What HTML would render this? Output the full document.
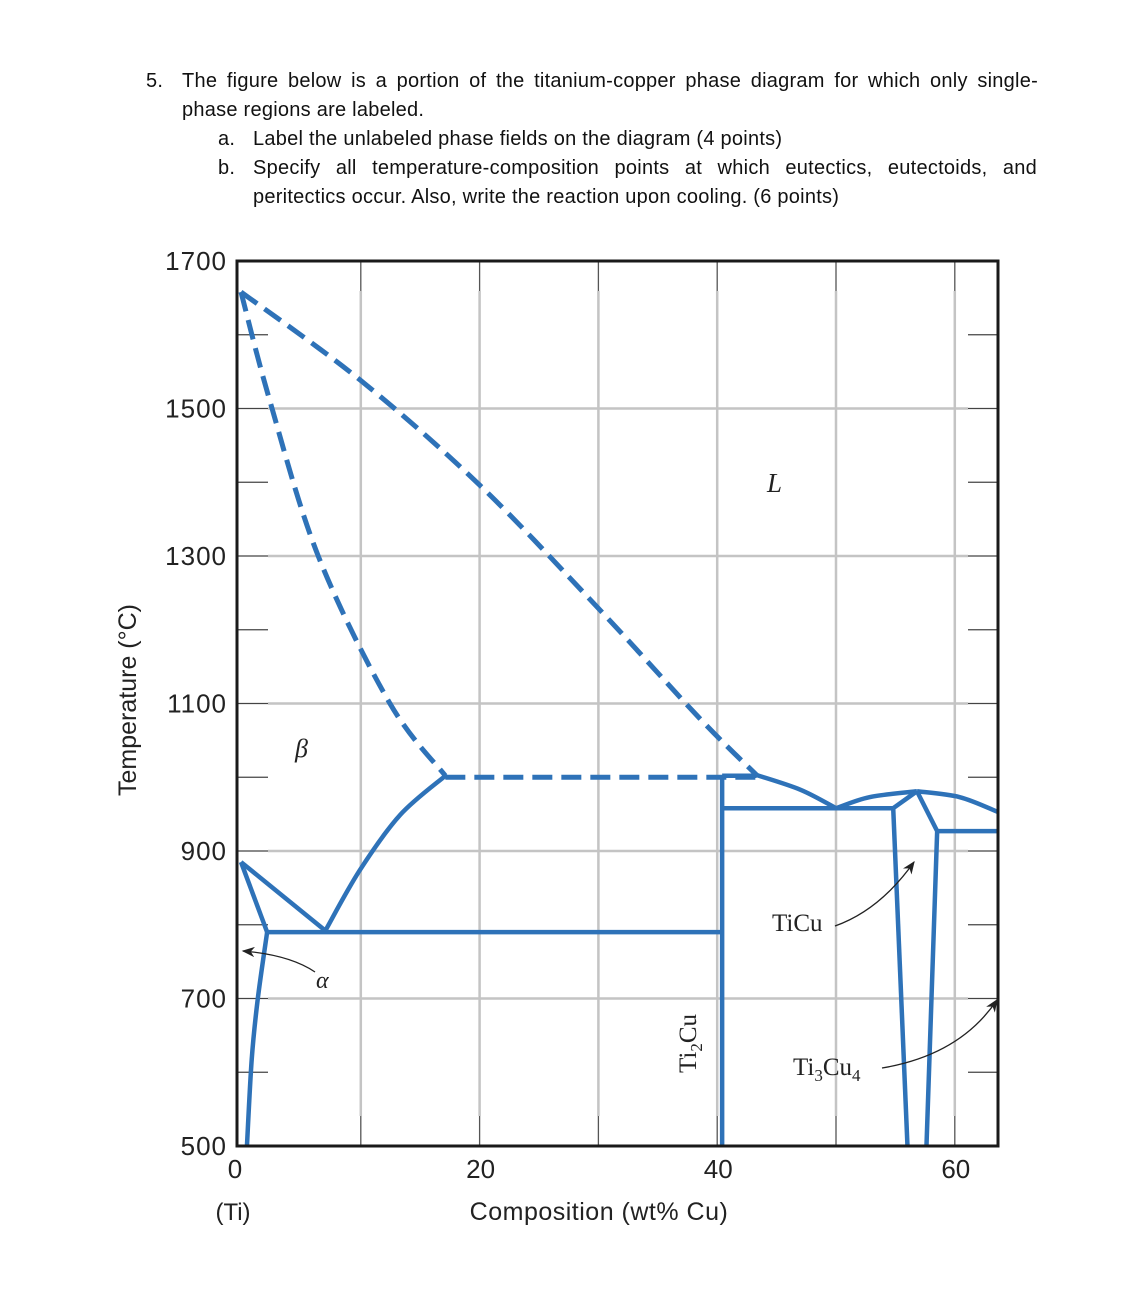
<!DOCTYPE html>
<html><head><meta charset="utf-8"><style>
body{margin:0;width:1142px;height:1316px;background:#fff;font-family:"Liberation Sans",sans-serif;}
.q{position:absolute;font-size:20px;color:#111;letter-spacing:0.25px;white-space:nowrap;}
.j{text-align:justify;text-align-last:justify;white-space:normal;}
</style></head><body>
<div class="q" style="left:146px;top:70px">5.</div>
<div class="q j" style="left:182px;top:70px;width:856px">The figure below is a portion of the titanium-copper phase diagram for which only single-</div>
<div class="q" style="left:182px;top:99px">phase regions are labeled.</div>
<div class="q" style="left:218px;top:128px">a.</div>
<div class="q" style="left:253px;top:128px">Label the unlabeled phase fields on the diagram (4 points)</div>
<div class="q" style="left:218px;top:157px">b.</div>
<div class="q j" style="left:253px;top:157px;width:784px">Specify all temperature-composition points at which eutectics, eutectoids, and</div>
<div class="q" style="left:253px;top:186px">peritectics occur. Also, write the reaction upon cooling. (6 points)</div>
<svg id="chart" width="1142" height="1316" style="position:absolute;left:0;top:0">
<defs><clipPath id="pc"><rect x="237" y="261" width="761" height="885"/></clipPath>
<marker id="ah" markerWidth="10" markerHeight="8" refX="9" refY="4" orient="auto"><path d="M0,0 L10,4 L0,8 L3,4z" fill="#222"/></marker></defs>
<g id="grid"></g><g id="marks" clip-path="url(#pc)"></g><g id="axes"></g><g id="labels"></g>
</svg>
<script>
const xTicks=[0,20,40,60];
const yTicks=[500,700,900,1100,1300,1500,1700];
const liquidus=[[0,1658],[10,1539],[20.1,1396],[30.2,1227],[38.6,1080],[43.4,1003]];
const solidus=[[0,1658],[2.4,1512],[6.5,1300],[12.5,1101],[17.2,1002]];
const peritecticLine=[[17.2,1000],[43.4,1000]];
const betaTransus=[[17.2,1002],[13.4,949],[10,874],[7.1,792]];
const alphaBeta=[[0,885],[7.1,792]];
const alphaTransus=[[0,885],[2.2,790]];
const eutectoid=[[2.2,790],[40.5,790]];
const alphaSolvus=[[2.2,790],[1.4,698],[0.9,617],[0.5,500]];
const ti2cu=[[40.5,1002],[40.5,500]];
const ti2cuTop=[[40.5,1002],[43.4,1002]];
const liqRight1=[[43.4,1003],[47.1,983],[50.1,958]];
const liqRight2=[[50.1,958],[52.9,973],[56.9,981]];
const liqRight3=[[56.9,981],[60.5,973],[63.7,953]];
const eutectic=[[40.5,958],[54.9,958]];
const ticuLeft=[[54.9,958],[56.1,500]];
const ticuPeak=[[54.9,958],[56.9,981]];
const ti3cu4Left=[[56.9,981],[58.6,927],[57.7,500]];
const peritectic2=[[58.6,927],[63.7,927]];
const X=w=>241+11.88*w, Y=t=>261+(1700-t)*0.7375;
const NS='http://www.w3.org/2000/svg';
function mk(g,tag,at,txt){const e=document.createElementNS(NS,tag);for(const k in at)e.setAttribute(k,at[k]);if(txt!==undefined)e.textContent=txt;document.getElementById(g).appendChild(e);return e;}
for(let w=10;w<=60;w+=10){const x=X(w)+1;
const gl=mk('grid','line',{x1:x,x2:x,y1:291,y2:1116,stroke:'#c4c4c4','stroke-width':2.5});


mk('grid','line',{x1:x,x2:x,y1:261,y2:291,stroke:'#555','stroke-width':1.3});
mk('grid','line',{x1:x,x2:x,y1:1116,y2:1146,stroke:'#555','stroke-width':1.3});}
for(let t=600;t<=1600;t+=100){const y=Y(t);
if(t%200==100){const gl=mk('grid','line',{x1:268,x2:968,y1:y,y2:y,stroke:'#c4c4c4','stroke-width':2.5});

}
mk('grid','line',{x1:237,x2:268,y1:y,y2:y,stroke:'#444','stroke-width':1.3});
mk('grid','line',{x1:968,x2:998,y1:y,y2:y,stroke:'#444','stroke-width':1.3});}
function line(arr,name,dash,smooth){
const P=arr.map(p=>[X(p[0]),Y(p[1])]);
let d='M'+P[0][0]+','+P[0][1];
for(let i=1;i<P.length;i++){
if(smooth){const p0=P[i-2]||P[i-1],p1=P[i-1],p2=P[i],p3=P[i+1]||P[i];
const c1=[p1[0]+(p2[0]-p0[0])/6,p1[1]+(p2[1]-p0[1])/6],c2=[p2[0]-(p3[0]-p1[0])/6,p2[1]-(p3[1]-p1[1])/6];
d+=' C'+c1+' '+c2+' '+p2;}else d+=' L'+P[i][0]+','+P[i][1];}
const p=mk('marks','path',{d:d,fill:'none',stroke:'#2e72b8','stroke-width':dash?5:4.5,'stroke-dasharray':dash?'20,9':'none','stroke-linejoin':'round'});

}
line(liquidus,'liquidus-dashed',1,1);line(solidus,'solidus-dashed',1,1);line(peritecticLine,'isotherm-1000-dashed',1);
line(betaTransus,'beta-transus',0,1);line(alphaBeta,'alpha-beta-boundary');line(alphaTransus,'alpha-transus');
line(eutectoid,'eutectoid-line');line(alphaSolvus,'alpha-solvus',0,1);line(ti2cu,'ti2cu-line');line(ti2cuTop,'ti2cu-top');
line(liqRight1,'liquidus-right-1',0,1);line(liqRight2,'liquidus-right-2',0,1);line(liqRight3,'liquidus-right-3',0,1);
line(eutectic,'eutectic-line');line(ticuLeft,'ticu-left');line(ticuPeak,'ticu-peak');line(ti3cu4Left,'ti3cu4-left');line(peritectic2,'peritectic-line');
const fr=mk('axes','rect',{x:237,y:261,width:761,height:885,fill:'none',stroke:'#1a1a1a','stroke-width':3});


yTicks.forEach(t=>{const e=mk('axes','text',{x:227,y:Y(t)+9,'text-anchor':'end','font-size':26,'letter-spacing':1,fill:'#222','font-family':'Liberation Sans'},t);

});
xTicks.forEach(w=>{const e=mk('axes','text',{x:w==0?235:X(w)+2,y:1178,'text-anchor':'middle','font-size':26,fill:'#222','font-family':'Liberation Sans'},w);

});
function lab(name,x,y,txt,size,extra){const a={x:x,y:y,'font-size':size,fill:'#222','font-family':'Liberation Sans'};Object.assign(a,extra||{});const e=mk('labels','text',a,txt);

return e;}
lab('ti-label',233,1220,'(Ti)',24,{'text-anchor':'middle'});
lab('x-axis-title',599,1220,'Composition (wt% Cu)',25,{'text-anchor':'middle','letter-spacing':0.5});
lab('y-axis-title',136,700,'Temperature (°C)',25,{'text-anchor':'middle',transform:'rotate(-90 136 700)'});
const serif={'font-family':'Liberation Serif','font-style':'italic'};
lab('liquid-label',767,492,'L',27,serif);
lab('beta-label',295,757,'β',26,serif);
lab('alpha-label',316,988,'α',24,serif);
lab('ticu-label',772,931,'TiCu',25,{'font-family':'Liberation Serif'});
const t2=lab('ti2cu-label',696,1073,'',25,{'font-family':'Liberation Serif',transform:'rotate(-90 696 1073)'});
t2.innerHTML='Ti<tspan font-size="17" dy="6">2</tspan><tspan dy="-6">Cu</tspan>';
const t3=lab('ti3cu4-label',793,1075,'',25,{'font-family':'Liberation Serif'});
t3.innerHTML='Ti<tspan font-size="17" dy="6">3</tspan><tspan dy="-6">Cu</tspan><tspan font-size="17" dy="6">4</tspan>';
function arrow(name,d){const p=mk('labels','path',{d:d,fill:'none',stroke:'#222','stroke-width':1.3,'marker-end':'url(#ah)'});

}
arrow('alpha-arrow','M315,972 Q290,955 243,951');
arrow('ticu-arrow','M835,926 Q880,910 914,862');
arrow('ti3cu4-arrow','M882,1068 Q960,1055 997,1000');
</script>
</body></html>
